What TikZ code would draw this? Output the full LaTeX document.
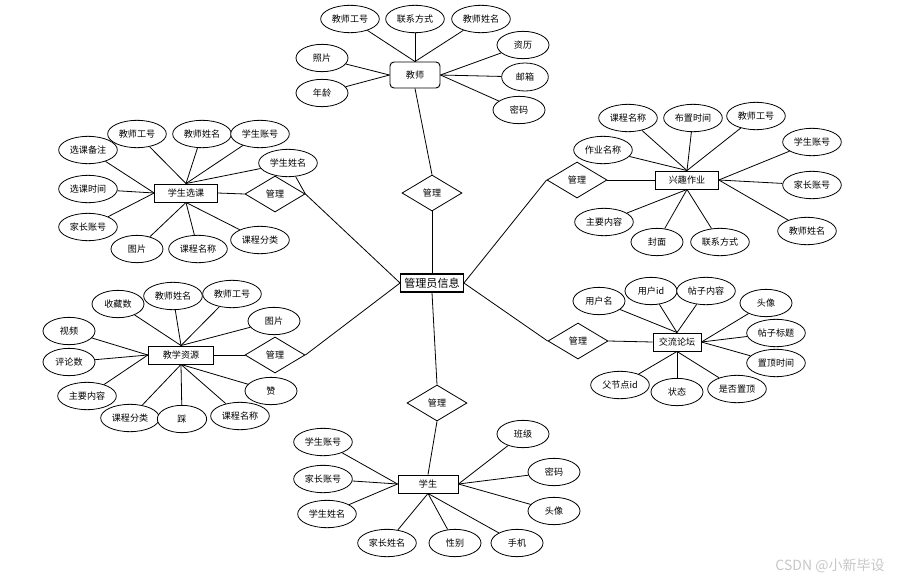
\documentclass[tikz,border=0pt]{standalone}
\usepackage{fontspec}
\newfontfamily\cjk{Noto Sans CJK SC}
\usetikzlibrary{shapes.geometric}
\tikzset{
  attr/.style={ellipse, draw, line width=0.6pt, fill=white, inner sep=0pt, minimum width=44pt, minimum height=20.5pt, font=\cjk\fontsize{6.8}{8}\selectfont},
  sattr/.style={attr, minimum width=39pt},
  entity/.style={rectangle, draw, line width=0.7pt, fill=white, inner sep=0pt, minimum height=13.5pt, font=\cjk\fontsize{6.8}{8}\selectfont},
  rel/.style={diamond, draw, line width=0.6pt, fill=white, inner sep=0pt, minimum width=45pt, minimum height=27pt, font=\cjk\fontsize{6.8}{8}\selectfont},
  link/.style={line width=0.6pt}
}
\begin{document}
\begin{tikzpicture}[x=0.75pt, y=-0.75pt]
	\useasboundingbox (0,0) rectangle (904,582);
	% Entities and relations:
	\node[entity, line width=0.9pt, minimum width=47pt, font=\cjk\fontsize{8.3}{10}\selectfont] (admin) at (432,283){管理员信息};
	\node[entity, rounded corners=3pt, minimum width=37.5pt, minimum height=19.5pt] (teacher) at (415,75){教师};
	\node[entity, minimum width=47pt] (xk) at (186,193){学生选课};
	\node[entity, minimum width=47pt] (hw) at (687,180){兴趣作业};
	\node[entity, minimum width=36pt] (bbs) at (677,342){交流论坛};
	\node[entity, minimum width=49pt] (res) at (181,355){教学资源};
	\node[entity, minimum width=45pt] (stu) at (428,484){学生};
	\node[rel] (tRel) at (432,193){管理};
	\node[rel] (xkRel) at (275,194){管理};
	\node[rel] (hwRel) at (577,180){管理};
	\node[rel] (bbsRel) at (578,341){管理};
	\node[rel] (resRel) at (275,355){管理};
	\node[rel] (stuRel) at (437,403){管理};

	% Attributes of 教师
	\node[attr] (tNo) at (350,19){教师工号};
	\node[attr] (tTel) at (415,19){联系方式};
	\node[attr] (tName) at (481,19){教师姓名};
	\node[sattr] (tPhoto) at (322,58){照片};
	\node[sattr] (tAge) at (322,93){年龄};
	\node[sattr] (tExp) at (523,45){资历};
	\node[sattr, minimum width=35pt, minimum height=21pt] (tMail) at (525,77){邮箱};
	\node[sattr] (tPwd) at (519,110){密码};

	% Attributes of 学生选课
	\node[attr] (xkTNo) at (137,134){教师工号};
	\node[attr] (xkTName) at (202,134){教师姓名};
	\node[attr] (xkSNo) at (260,134){学生账号};
	\node[attr] (xkSName) at (288,163){学生姓名};
	\node[attr] (xkNote) at (88,150){选课备注};
	\node[attr] (xkTime) at (88,189){选课时间};
	\node[attr] (xkPNo) at (88,227){家长账号};
	\node[sattr] (xkPic) at (137,249){图片};
	\node[attr] (xkCName) at (198,249){课程名称};
	\node[attr] (xkCType) at (260,240){课程分类};

	% Attributes of 兴趣作业
	\node[attr] (hwName) at (603,150){作业名称};
	\node[attr] (hwCName) at (628,118){课程名称};
	\node[attr] (hwTime) at (693,118){布置时间};
	\node[attr] (hwTNo) at (756,116){教师工号};
	\node[attr] (hwSNo) at (812,142){学生账号};
	\node[attr] (hwPNo) at (812,185){家长账号};
	\node[attr] (hwTName) at (807,231){教师姓名};
	\node[attr] (hwText) at (604,222){主要内容};
	\node[sattr] (hwCover) at (657,242){封面};
	\node[attr] (hwTel) at (720,242){联系方式};

	% Attributes of 交流论坛
	\node[sattr] (bbsUser) at (599,301){用户名};
	\node[sattr] (bbsUid) at (651,291){用户id};
	\node[attr] (bbsText) at (706,291){帖子内容};
	\node[sattr] (bbsHead) at (766,303){头像};
	\node[attr] (bbsTitle) at (776,333){帖子标题};
	\node[attr] (bbsTopTime) at (776,363){置顶时间};
	\node[attr] (bbsPid) at (620,385){父节点id};
	\node[sattr] (bbsState) at (677,392){状态};
	\node[attr] (bbsTop) at (737,389){是否置顶};

	% Attributes of 教学资源
	\node[sattr] (resFav) at (118,304){收藏数};
	\node[attr] (resTName) at (173,296){教师姓名};
	\node[attr] (resTNo) at (232,294){教师工号};
	\node[sattr] (resPic) at (274,321){图片};
	\node[sattr] (resVideo) at (69,331){视频};
	\node[sattr] (resCmt) at (69,362){评论数};
	\node[attr] (resText) at (87,396){主要内容};
	\node[attr] (resCType) at (130,418){课程分类};
	\node[sattr, minimum width=37pt] (resDown) at (182,419){踩};
	\node[attr] (resCName) at (240,416){课程名称};
	\node[sattr] (resUp) at (271,391){赞};

	% Attributes of 学生
	\node[attr] (sNo) at (323,442){学生账号};
	\node[attr] (sPNo) at (323,479){家长账号};
	\node[attr] (sName) at (327,514){学生姓名};
	\node[attr] (sPName) at (387,543){家长姓名};
	\node[sattr] (sSex) at (455,543){性别};
	\node[sattr] (sTel) at (517,543){手机};
	\node[sattr] (sClass) at (523,434){班级};
	\node[sattr] (sPwd) at (554,472){密码};
	\node[sattr] (sHead) at (554,511){头像};

	% Relations to 管理员信息
	\draw[link] (teacher.south) -- (tRel.north);
	\draw[link] (tRel.south) -- (admin.north);
	\draw[link] (xk.east) -- (xkRel.west);
	\draw[link] (xkSName) -- (xkRel.east);
	\draw[link] (xkRel.east) -- (admin.west);
	\draw[link] (res.east) -- (resRel.west);
	\draw[link] (resRel.east) -- (admin.west);
	\draw[link] (hw.west) -- (hwRel.east);
	\draw[link] (hwRel.west) -- (admin.east);
	\draw[link] (bbs.west) -- (bbsRel.east);
	\draw[link] (bbsRel.west) -- (admin.east);
	\draw[link] (admin.south) -- (stuRel.north);
	\draw[link] (stuRel.south) -- (stu.north);

	% Wires of 教师
	\draw[link] (tNo) -- (teacher.north);
	\draw[link] (tTel) -- (teacher.north);
	\draw[link] (tName) -- (teacher.north);
	\draw[link] (tPhoto) -- (teacher.west);
	\draw[link] (tAge) -- (teacher.west);
	\draw[link] (tExp) -- (teacher.east);
	\draw[link] (tMail) -- (teacher.east);
	\draw[link] (tPwd) -- (teacher.east);

	% Wires of 学生选课
	\draw[link] (xkTNo) -- (xk.north);
	\draw[link] (xkTName) -- (xk.north);
	\draw[link] (xkSNo) -- (xk.north);
	\draw[link] (xkSName) -- (xk.north);
	\draw[link] (xkNote) -- (xk.west);
	\draw[link] (xkTime) -- (xk.west);
	\draw[link] (xkPNo) -- (xk.west);
	\draw[link] (xkPic) -- (xk.south);
	\draw[link] (xkCName) -- (xk.south);
	\draw[link] (xkCType) -- (xk.south);

	% Wires of 兴趣作业
	\draw[link] (hwName) -- (hw.north);
	\draw[link] (hwCName) -- (hw.north);
	\draw[link] (hwTime) -- (hw.north);
	\draw[link] (hwTNo) -- (hw.north);
	\draw[link] (hwSNo) -- (hw.east);
	\draw[link] (hwPNo) -- (hw.east);
	\draw[link] (hwTName) -- (hw.east);
	\draw[link] (hwText) -- (hw.south);
	\draw[link] (hwCover) -- (hw.south);
	\draw[link] (hwTel) -- (hw.south);

	% Wires of 交流论坛
	\draw[link] (bbsUser) -- (bbs.north);
	\draw[link] (bbsUid) -- (bbs.north);
	\draw[link] (bbsText) -- (bbs.north);
	\draw[link] (bbsHead) -- (bbs.east);
	\draw[link] (bbsTitle) -- (bbs.east);
	\draw[link] (bbsTopTime) -- (bbs.east);
	\draw[link] (bbsPid) -- (bbs.south);
	\draw[link] (bbsState) -- (bbs.south);
	\draw[link] (bbsTop) -- (bbs.south);

	% Wires of 教学资源
	\draw[link] (resFav) -- (res.north);
	\draw[link] (resTName) -- (res.north);
	\draw[link] (resTNo) -- (res.north);
	\draw[link] (resPic) -- (res.north);
	\draw[link] (resVideo) -- (res.west);
	\draw[link] (resCmt) -- (res.west);
	\draw[link] (resText) -- (res.west);
	\draw[link] (resCType) -- (res.south);
	\draw[link] (resDown) -- (res.south);
	\draw[link] (resCName) -- (res.south);
	\draw[link] (resUp) -- (res.south);

	% Wires of 学生
	\draw[link] (sNo) -- (stu.west);
	\draw[link] (sPNo) -- (stu.west);
	\draw[link] (sName) -- (stu.west);
	\draw[link] (sPName) -- (stu.south);
	\draw[link] (sSex) -- (stu.south);
	\draw[link] (sTel) -- (stu.south);
	\draw[link] (sClass) -- (stu.east);
	\draw[link] (sPwd) -- (stu.east);
	\draw[link] (sHead) -- (stu.east);

	\node[font=\cjk\fontsize{10.5}{12}\selectfont, text=black!22] (mark) at (830,566){CSDN @小新毕设};
\end{tikzpicture}
\end{document}
